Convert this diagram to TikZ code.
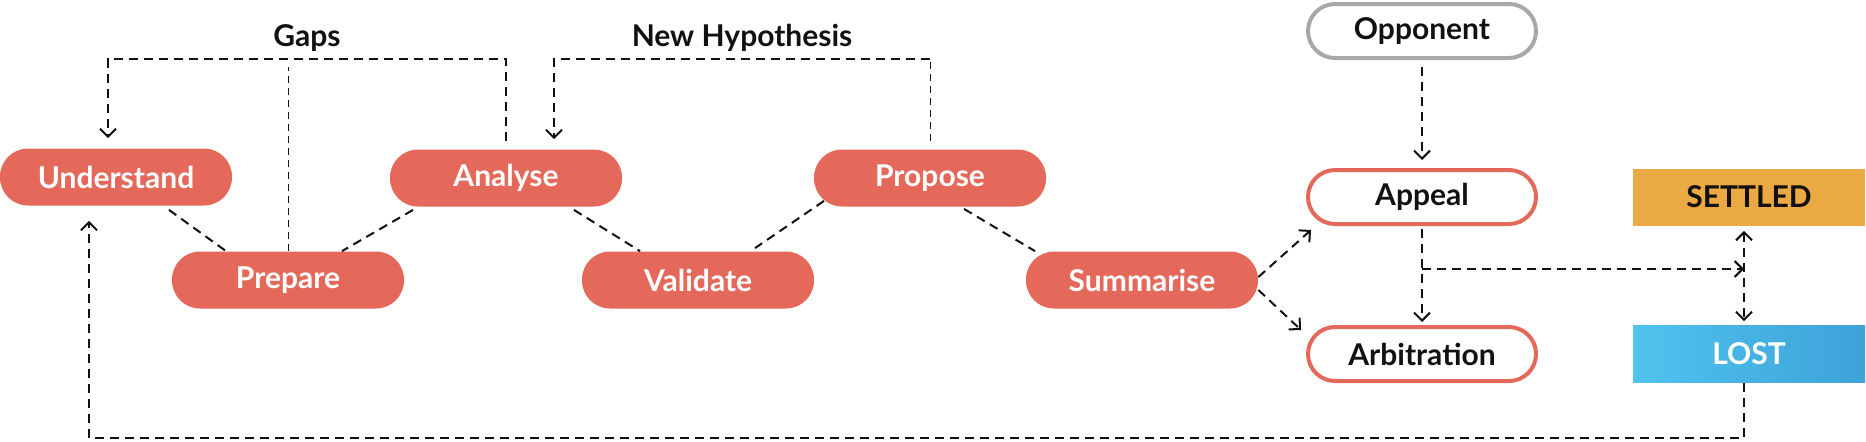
\documentclass[tikz,border=0pt]{standalone}
\usepackage{fontspec}
\setsansfont{Lato}
\usetikzlibrary{arrows.meta,positioning,calc}
\definecolor{stagered}{HTML}{E5695B}
\definecolor{opponentgrey}{HTML}{A8A8AA}
\definecolor{settledorange}{HTML}{EBA943}
\definecolor{lostleft}{HTML}{50C3EE}
\definecolor{lostright}{HTML}{3DA2D8}
\definecolor{inkdark}{HTML}{111111}

\tikzset{
  labelfont/.style={font=\sffamily\bfseries\fontsize{15}{17}\selectfont},
  stage/.style={labelfont, fill=stagered, text=white, rounded corners=14pt,
    minimum width=116pt, minimum height=28.5pt, inner sep=0pt},
  party/.style={labelfont, draw=#1, line width=2pt, fill=white, text=inkdark,
    rounded corners=13.5pt, minimum width=114pt, minimum height=27pt, inner sep=0pt},
  outcome/.style={labelfont, minimum width=116pt, minimum height=28.5pt, inner sep=0pt},
  link/.style={line width=1pt, color=inkdark, dash pattern=on 4.5pt off 3pt},
  thinlink/.style={line width=0.5pt, color=inkdark, dash pattern=on 3.5pt off 2.5pt},
  tip/.style={},
  flow/.style={link, -{Straight Barb[length=4pt,width=8pt,line width=1pt]}},
  twoway/.style={link, {Straight Barb[length=4pt,width=8pt,line width=1pt]}-{Straight Barb[length=4pt,width=8pt,line width=1pt]}}
}

\begin{document}
\begin{tikzpicture}[x=0.5pt, y=-0.5pt]
  \useasboundingbox[fill=white] (0,0) rectangle (1866,441);

  % Stages
  \node[stage] (und)  at (116,177)  {Understand};
  \node[stage] (prep) at (288,280)  {Prepare};
  \node[stage] (ana)  at (506,178)  {Analyse};
  \node[stage] (val)  at (698,280)  {Validate};
  \node[stage] (prop) at (930,178)  {Propose};
  \node[stage] (summ) at (1142,280) {Summarise};

  % Parties and outcomes
  \node[party=opponentgrey] (opp) at (1422,31)  {Opponent};
  \node[party=stagered]     (app) at (1422,197) {Appeal};
  \node[party=stagered]     (arb) at (1422,354) {Arbitration};
  \node[outcome, fill=settledorange, text=inkdark] (settled) at (1749,197) {SETTLED};
  \node[outcome, left color=lostleft, right color=lostright, text=white] (lost) at (1749,354) {LOST};

  % Feedback labels
  \coordinate (gaps) at (307,59);
  \coordinate (hyp)  at (742,59);
  \node[labelfont, text=inkdark] (gapslbl) at (307,38) {Gaps};
  \node[labelfont, text=inkdark] (hyplbl)  at (742,38) {New Hypothesis};

  % Chain between stages
  \draw[link] ($(und.south)+(53,4)$)   -- ($(prep.north)+(-62,0)$);
  \draw[link] ($(ana.south)+(-93,3)$)  -- ($(prep.north)+(54,0)$);
  \draw[link] ($(ana.south)+(68,3)$)   -- ($(val.north)+(-58,0)$);
  \draw[link] ($(prop.south)+(-106,-6)$) -- ($(val.north)+(57,-3)$);
  \draw[link] ($(prop.south)+(34,2)$)  -- ($(summ.north)+(-107,0)$);
  \draw[flow] ($(summ.east)+(0,-3)$)   -- ($(app.south west)+(5,4)$);
  \draw[flow] ($(summ.east)+(0,10)$)   -- ($(arb.north west)+(-5,5)$);

  % Gaps loop
  \draw[flow] ([yshift=4pt]ana.north) |- (gaps) -| ([shift={(-4pt,5pt)}]und.north);
  \draw[thinlink] (prep.north) -- ([yshift=-4pt]prep.north |- gaps);

  % New hypothesis loop
  \draw[thinlink] ([yshift=4pt]prop.north) -- (prop.north |- hyp);
  \draw[flow] (prop.north |- hyp) -| ([shift={(24pt,5pt)}]ana.north);

  % Opponent side
  \coordinate (split) at (1422,269);
  \coordinate (relay) at (1744,269);
  \draw[flow, shorten <=3.5pt, shorten >=4pt] (opp) -- (app);
  \draw[flow, shorten <=1.5pt, shorten >=1.5pt] (app) -- (arb);
  \draw[flow] (split) -- (relay);
  \draw[twoway, shorten <=2.5pt, shorten >=2pt] (settled.south -| relay) -- (lost.north -| relay);

  % Back to the start
  \draw[flow] (lost.south -| relay) -- ++(0,55) -| ([shift={(-13.5pt,-7.5pt)}]und.south);
\end{tikzpicture}
\end{document}
